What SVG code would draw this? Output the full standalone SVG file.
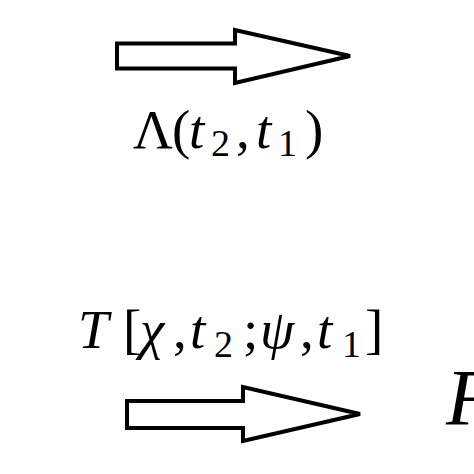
<svg xmlns="http://www.w3.org/2000/svg" width="474" height="474" viewBox="0 0 474 474">
<style>
.arrow{fill:#fff;stroke:#000;stroke-width:4;stroke-linejoin:miter}
.m{font-family:"Liberation Serif","DejaVu Serif",serif;font-size:55px;fill:#000}
.i{font-style:italic}
.s{font-size:38px}
</style>
<rect width="474" height="474" fill="#fff"/>
<g id="connectors">
<path class="arrow" d="M117,43.5 H235 V30 L350,56 L235,83 V68.5 H117 Z"/>
<path class="arrow" d="M127,401 H243 V387 L360,414 L243,441 V428 H127 Z"/>
</g>
<g id="label1">
<text class="m" y="148"><tspan x="133">Λ</tspan><tspan x="172">(</tspan><tspan class="i" x="189">t</tspan><tspan class="s" x="211" y="156">2</tspan><tspan x="236" y="148">,</tspan><tspan class="i" x="256">t</tspan><tspan class="s" x="278" y="156">1</tspan><tspan x="305" y="148">)</tspan></text>
</g>
<g id="label2">
<text class="m" y="348"><tspan class="i" x="78">T</tspan><tspan x="123">[</tspan><tspan class="i" x="140">χ</tspan><tspan x="173">,</tspan><tspan class="i" x="190">t</tspan><tspan class="s" x="214" y="357">2</tspan><tspan x="243" y="348">;</tspan><tspan class="i" x="260">ψ</tspan><tspan x="300">,</tspan><tspan class="i" x="317">t</tspan><tspan class="s" x="342" y="357">1</tspan><tspan x="365" y="348">]</tspan></text>
</g>
<g id="node-F">
<text class="m i" x="446" y="425" style="font-size:80px">F</text>
</g>
</svg>
